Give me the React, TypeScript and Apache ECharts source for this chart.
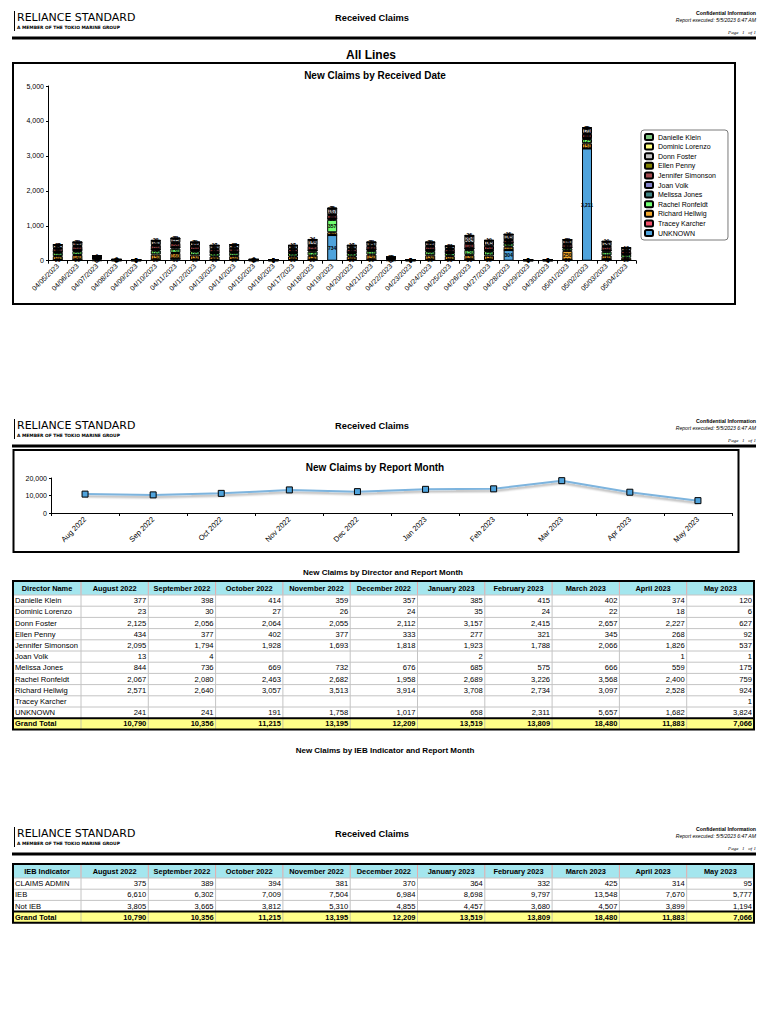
import React, { useEffect, useRef } from 'react';
import * as echarts from 'echarts';

// ---------- data ----------
const receivedDates = [
  '04/05/2023', '04/06/2023', '04/07/2023', '04/08/2023', '04/09/2023', '04/10/2023',
  '04/11/2023', '04/12/2023', '04/13/2023', '04/14/2023', '04/15/2023', '04/16/2023',
  '04/17/2023', '04/18/2023', '04/19/2023', '04/20/2023', '04/21/2023', '04/22/2023',
  '04/23/2023', '04/24/2023', '04/25/2023', '04/26/2023', '04/27/2023', '04/28/2023',
  '04/29/2023', '04/30/2023', '05/01/2023', '05/02/2023', '05/03/2023', '05/04/2023',
];

const directorNames = [
  'Danielle Klein', 'Dominic Lorenzo', 'Donn Foster', 'Ellen Penny', 'Jennifer Simonson',
  'Joan Volk', 'Melissa Jones', 'Rachel Ronfeldt', 'Richard Hellwig', 'Tracey Karcher', 'UNKNOWN',
];

const dailyDanielleKlein = [17, 20, 6, 2, 1, 22, 23, 20, 17, 17, 2, 1, 17, 24, 25, 17, 20, 4, 1, 20, 14, 25, 19, 15, 1, 1, 20, 25, 19, 13];
const dailyDominicLorenzo = [1, 1, 0, 0, 0, 2, 1, 1, 1, 1, 0, 0, 1, 1, 2, 1, 1, 0, 0, 1, 1, 2, 1, 1, 0, 0, 1, 2, 1, 0];
const dailyDonnFoster = [95, 105, 35, 10, 8, 120, 115, 105, 90, 95, 10, 8, 90, 155, 167, 90, 95, 22, 8, 105, 80, 204, 145, 145, 5, 5, 120, 170, 130, 80];
const dailyEllenPenny = [12, 14, 4, 2, 1, 15, 16, 14, 12, 12, 2, 1, 12, 15, 15, 12, 14, 3, 1, 14, 10, 15, 14, 10, 1, 1, 10, 10, 14, 10];
const dailyJenniferSimonson = [90, 100, 25, 6, 5, 110, 120, 100, 85, 90, 6, 5, 85, 130, 110, 85, 100, 20, 5, 100, 80, 140, 110, 80, 3, 3, 90, 100, 110, 80];
const dailyJoanVolk = [0, 0, 0, 0, 0, 0, 0, 0, 0, 0, 0, 0, 0, 0, 0, 0, 0, 0, 0, 0, 0, 0, 0, 0, 0, 0, 0, 0, 0, 0];
const dailyMelissaJones = [25, 30, 8, 2, 2, 30, 35, 30, 25, 25, 2, 2, 25, 30, 30, 25, 30, 6, 2, 30, 25, 40, 30, 20, 1, 1, 25, 30, 30, 20];
const dailyRachelRonfeldt = [100, 110, 25, 8, 6, 120, 130, 120, 100, 100, 8, 6, 100, 120, 357, 100, 110, 20, 6, 120, 90, 150, 130, 90, 4, 4, 70, 125, 110, 90];
const dailyRichardHellwig = [110, 140, 35, 8, 6, 150, 160, 130, 100, 110, 8, 6, 100, 120, 80, 100, 150, 30, 6, 130, 110, 130, 120, 100, 4, 4, 250, 150, 110, 60];
const dailyTraceyKarcher = [0, 0, 0, 0, 0, 0, 0, 0, 0, 0, 0, 0, 0, 0, 0, 0, 0, 0, 0, 0, 0, 0, 0, 0, 0, 0, 0, 0, 1, 0];
const dailyUnknown = [20, 25, 5, 2, 1, 25, 60, 25, 20, 20, 2, 1, 20, 25, 734, 20, 25, 5, 1, 25, 20, 30, 25, 304, 1, 1, 30, 3211, 40, 25];

const dailyByDirector = [
  dailyDanielleKlein, dailyDominicLorenzo, dailyDonnFoster, dailyEllenPenny, dailyJenniferSimonson,
  dailyJoanVolk, dailyMelissaJones, dailyRachelRonfeldt, dailyRichardHellwig, dailyTraceyKarcher, dailyUnknown,
];

const directorColors = [
  '#7DC47F', '#FFFF80', '#C4C4C4', '#808000', '#A24A4E', '#8282C8',
  '#3F8282', '#72FF72', '#F2A92E', '#F0506A', '#4FA3DC',
];

const reportMonthLabels = ['Aug 2022', 'Sep 2022', 'Oct 2022', 'Nov 2022', 'Dec 2022', 'Jan 2023', 'Feb 2023', 'Mar 2023', 'Apr 2023', 'May 2023'];
const tableMonthLabels = ['August 2022', 'September 2022', 'October 2022', 'November 2022', 'December 2022', 'January 2023', 'February 2023', 'March 2023', 'April 2023', 'May 2023'];

const monthDanielleKlein = [377, 398, 414, 359, 357, 385, 415, 402, 374, 120];
const monthDominicLorenzo = [23, 30, 27, 26, 24, 35, 24, 22, 18, 6];
const monthDonnFoster = [2125, 2056, 2064, 2055, 2112, 3157, 2415, 2657, 2227, 627];
const monthEllenPenny = [434, 377, 402, 377, 333, 277, 321, 345, 268, 92];
const monthJenniferSimonson = [2095, 1794, 1928, 1693, 1818, 1923, 1788, 2066, 1826, 537];
const monthJoanVolk = [13, 4, null, null, null, 2, null, null, 1, 1];
const monthMelissaJones = [844, 736, 669, 732, 676, 685, 575, 666, 559, 175];
const monthRachelRonfeldt = [2067, 2080, 2463, 2682, 1958, 2689, 3226, 3568, 2400, 759];
const monthRichardHellwig = [2571, 2640, 3057, 3513, 3914, 3708, 2734, 3097, 2528, 924];
const monthTraceyKarcher = [null, null, null, null, null, null, null, null, null, 1];
const monthUnknown = [241, 241, 191, 1758, 1017, 658, 2311, 5657, 1682, 3824];
const monthGrandTotal = [10790, 10356, 11215, 13195, 12209, 13519, 13809, 18480, 11883, 7066];

const monthByDirector = [
  monthDanielleKlein, monthDominicLorenzo, monthDonnFoster, monthEllenPenny, monthJenniferSimonson,
  monthJoanVolk, monthMelissaJones, monthRachelRonfeldt, monthRichardHellwig, monthTraceyKarcher, monthUnknown,
];

const iebNames = ['CLAIMS ADMIN', 'IEB', 'Not IEB'];
const iebClaimsAdmin = [375, 389, 394, 381, 370, 364, 332, 425, 314, 95];
const iebIeb = [6610, 6302, 7009, 7504, 6984, 8698, 9797, 13548, 7670, 5777];
const iebNotIeb = [3805, 3665, 3812, 5310, 4855, 4457, 3680, 4507, 3899, 1194];
const iebRows = [iebClaimsAdmin, iebIeb, iebNotIeb];

// ---------- helpers ----------
const SANS = '"Liberation Sans", Arial, sans-serif';
const fmt = (v: number | null) => (v === null || v === undefined ? '' : Number(v).toLocaleString('en-US'));

function txt(x: number, y: number, text: string, font: string, align = 'left', fill = '#000') {
  return {
    type: 'text', x, y, silent: true,
    style: { text, font, fill, align, textAlign: align, verticalAlign: 'middle', textVerticalAlign: 'middle' },
  };
}
function rect(x: number, y: number, w: number, h: number, fill: string, stroke?: string, lw = 1) {
  return {
    type: 'rect', silent: true, shape: { x, y, width: w, height: h },
    style: { fill, stroke: stroke || null, lineWidth: stroke ? lw : 0 },
  };
}
function ln(x1: number, y1: number, x2: number, y2: number, stroke: string, lw = 1) {
  return { type: 'line', silent: true, shape: { x1, y1, x2, y2 }, style: { stroke, lineWidth: lw } };
}

function pageHeader(o: number) {
  return [
    rect(14, 11 + o, 1, 20, '#000'),
    txt(17, 17.5 + o, 'RELIANCE STANDARD', '11px "DejaVu Sans", sans-serif'),
    txt(17, 27 + o, 'A MEMBER OF THE TOKIO MARINE GROUP', 'bold 4.4px "DejaVu Sans", sans-serif'),
    txt(372, 18 + o, 'Received Claims', `bold 9.3px ${SANS}`, 'center'),
    txt(756, 13 + o, 'Confidential Information', `bold 5.2px ${SANS}`, 'right'),
    txt(756, 20 + o, 'Report executed: 5/5/2023 6:47 AM', `italic 5.1px ${SANS}`, 'right'),
    txt(756, 32 + o, 'Page   1   of 1', 'italic 5px "Liberation Serif", serif', 'right'),
    rect(12, 36.5 + o, 744, 3, '#000'),
  ];
}

const colEdges = [13, ...Array.from({ length: 11 }, (_, i) => 81 + i * 67.3)];

function table(top: number, firstHeader: string, names: string[], rows: (number | null)[][], total: number[]) {
  const els: any[] = [];
  const hh = 14;
  const rh = 11.2;
  const left = colEdges[0];
  const right = colEdges[colEdges.length - 1];
  const bodyTop = top + hh;
  const totalTop = bodyTop + rows.length * rh;
  const bottom = totalTop + rh;
  els.push(rect(left, top, right - left, hh, '#A4E6EE'));
  els.push(rect(left, bodyTop, right - left, totalTop - bodyTop, '#FFFFFF'));
  els.push(rect(left, totalTop, right - left, rh, '#FFFF88'));
  for (let r = 1; r < rows.length; r++) {
    els.push(ln(left, bodyTop + r * rh, right, bodyTop + r * rh, '#C4C4C4', 1));
  }
  for (let c = 1; c < colEdges.length - 1; c++) {
    els.push(ln(colEdges[c], top, colEdges[c], top + hh, '#E6AAAA', 1));
    els.push(ln(colEdges[c], bodyTop, colEdges[c], totalTop, '#C4C4C4', 1));
    els.push(ln(colEdges[c], totalTop, colEdges[c], bottom, '#C9C9A0', 1));
  }
  els.push(ln(left, bodyTop, right, bodyTop, '#C4C4C4', 1));
  els.push(ln(left, totalTop, right, totalTop, '#000', 2));
  els.push({
    type: 'rect', silent: true, shape: { x: left, y: top, width: right - left, height: bottom - top },
    style: { fill: 'none', stroke: '#000', lineWidth: 2 },
  });
  const hf = `bold 7.4px ${SANS}`;
  const bf = `7.6px ${SANS}`;
  const tf = `bold 7.5px ${SANS}`;
  els.push(txt((colEdges[0] + colEdges[1]) / 2, top + hh / 2, firstHeader, hf, 'center'));
  tableMonthLabels.forEach((m, i) => {
    els.push(txt((colEdges[i + 1] + colEdges[i + 2]) / 2, top + hh / 2, m, hf, 'center'));
  });
  rows.forEach((vals, r) => {
    const cy = bodyTop + r * rh + rh / 2;
    els.push(txt(left + 2, cy, names[r], bf, 'left'));
    vals.forEach((v, i) => {
      if (v !== null) els.push(txt(colEdges[i + 2] - 2, cy, fmt(v), bf, 'right'));
    });
  });
  const ty = totalTop + rh / 2;
  els.push(txt(left + 2, ty, 'Grand Total', tf, 'left'));
  total.forEach((v, i) => els.push(txt(colEdges[i + 2] - 2, ty, fmt(v), tf, 'right')));
  return els;
}

function buildOption() {
  const graphics: any[] = [
    ...pageHeader(0),
    ...pageHeader(408),
    ...pageHeader(816),
    txt(371, 55, 'All Lines', `bold 12px ${SANS}`, 'center'),
    { type: 'rect', silent: true, shape: { x: 13, y: 63, width: 722, height: 241 }, style: { fill: 'none', stroke: '#000', lineWidth: 2 } },
    txt(375, 75, 'New Claims by Received Date', `bold 10px ${SANS}`, 'center'),
    { type: 'rect', silent: true, shape: { x: 13.5, y: 450, width: 725, height: 102 }, style: { fill: 'none', stroke: '#000', lineWidth: 2 } },
    txt(375, 467, 'New Claims by Report Month', `bold 10px ${SANS}`, 'center'),
    txt(383, 572, 'New Claims by Director and Report Month', `bold 8px ${SANS}`, 'center'),
    ...table(581, 'Director Name', directorNames, monthByDirector, monthGrandTotal),
    txt(385, 750.5, 'New Claims by IEB Indicator and Report Month', `bold 8px ${SANS}`, 'center'),
    ...table(864, 'IEB Indicator', iebNames, iebRows, monthGrandTotal),
  ];

  const barSeries: any[] = [];
  for (let i = directorNames.length - 1; i >= 0; i--) {
    barSeries.push({
      name: directorNames[i],
      type: 'bar',
      stack: 'claims',
      xAxisIndex: 0,
      yAxisIndex: 0,
      barWidth: 10,
      data: dailyByDirector[i],
      itemStyle: { color: directorColors[i], borderColor: '#000', borderWidth: 1 },
      label: {
        show: true,
        position: 'inside',
        fontSize: 5,
        fontWeight: 'bold',
        color: '#000',
        textBorderWidth: 0,
        textBorderColor: 'transparent',
        fontFamily: SANS,
        formatter: (p: any) => (p.value > 0 ? fmt(p.value) : ''),
      },
    });
  }

  return {
    animation: false,
    backgroundColor: '#ffffff',
    textStyle: { fontFamily: SANS },
    graphic: { elements: graphics },
    legend: {
      orient: 'vertical',
      left: 641,
      top: 130,
      itemWidth: 8,
      itemHeight: 6,
      itemGap: 1.6,
      padding: [3, 12, 3, 3],
      borderColor: '#7A7A7A',
      borderWidth: 1,
      borderRadius: 3,
      icon: 'roundRect',
      textStyle: { fontSize: 7, lineHeight: 8, color: '#000', fontFamily: SANS },
      data: directorNames,
      selectedMode: false,
    },
    grid: [
      { left: 48, top: 86, width: 588, height: 174.7 },
      { left: 51, top: 478, width: 681, height: 35 },
    ],
    xAxis: [
      {
        type: 'category', gridIndex: 0, data: receivedDates,
        axisLine: { lineStyle: { color: '#000', width: 1 } },
        axisTick: { show: true, length: 3, lineStyle: { color: '#000' } },
        axisLabel: { rotate: 45, interval: 0, fontSize: 7, color: '#000', margin: 4 },
      },
      {
        type: 'category', gridIndex: 1, data: reportMonthLabels,
        axisLine: { lineStyle: { color: '#000', width: 1 } },
        axisTick: { show: true, length: 3, lineStyle: { color: '#000' } },
        axisLabel: { rotate: 45, interval: 0, fontSize: 7.5, color: '#000', margin: 5 },
      },
    ],
    yAxis: [
      {
        type: 'value', gridIndex: 0, min: 0, max: 5000, interval: 1000,
        axisLine: { show: true, lineStyle: { color: '#000', width: 1 } },
        axisTick: { show: true, length: 2, lineStyle: { color: '#000' } },
        splitLine: { show: false },
        axisLabel: { fontSize: 7, color: '#000', margin: 4, formatter: (v: number) => fmt(v) },
      },
      {
        type: 'value', gridIndex: 1, min: 0, max: 20000, interval: 10000,
        axisLine: { show: true, lineStyle: { color: '#000', width: 1 } },
        axisTick: { show: true, length: 2, lineStyle: { color: '#000' } },
        splitLine: { show: false },
        axisLabel: { fontSize: 7, color: '#000', margin: 4, formatter: (v: number) => fmt(v) },
      },
    ],
    series: [
      ...barSeries,
      {
        name: 'Report Month',
        type: 'line',
        xAxisIndex: 1,
        yAxisIndex: 1,
        data: monthGrandTotal,
        symbol: 'rect',
        symbolSize: 6,
        lineStyle: { color: '#7DB4DE', width: 2, shadowColor: 'rgba(0,0,0,0.35)', shadowBlur: 2, shadowOffsetY: 2 },
        itemStyle: { color: '#4FA3DC', borderColor: '#000', borderWidth: 1 },
        label: { show: false },
      },
    ],
  };
}

export default function App() {
  const ref = useRef<HTMLDivElement>(null);
  useEffect(() => {
    if (!ref.current) return;
    const chart = echarts.init(ref.current, undefined, { renderer: 'svg' });
    chart.setOption(buildOption() as any);
    return () => chart.dispose();
  }, []);
  return (
    <div
      ref={ref}
      style={{ position: 'absolute', left: 0, top: 0, width: 768, height: 1024, background: '#fff' }}
    />
  );
}
